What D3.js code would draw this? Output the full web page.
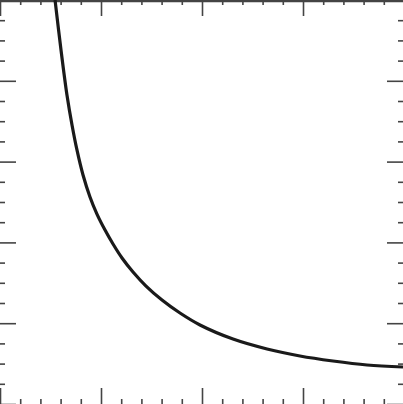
<!DOCTYPE html>
<html>
<head>
<meta charset="utf-8">
<script src="https://cdn.jsdelivr.net/npm/d3@7"></script>
<style>
  html, body { margin: 0; padding: 0; background: #fff; overflow: hidden; }
  svg { display: block; }
</style>
</head>
<body>
<div id="chart"></div>
<script>
// curve (x units, y units)
const curveX = [0.545, 0.604, 0.663, 0.713, 0.762, 0.822, 0.891, 0.960, 1.040, 1.119, 1.208, 1.317, 1.446, 1.604, 1.782, 1.980, 2.307, 2.644, 2.970, 3.297, 3.634, 3.990]
const curveY = [5.000, 4.381, 3.824, 3.453, 3.144, 2.834, 2.562, 2.351, 2.153, 1.980, 1.807, 1.634, 1.460, 1.287, 1.126, 0.978, 0.804, 0.681, 0.594, 0.532, 0.483, 0.458]

const xMajor = [0, 1, 2, 3, 4]
const yMajor = [0, 1, 2, 3, 4, 5]
const xMinorStep = 0.2
const yMinorStep = 0.25

let svgWidth = 403
let svgHeight = 404

const svg = d3.select("#chart").append("svg")
    .attr("width", svgWidth)
    .attr("height", svgHeight)

const x = d3.scaleLinear().domain([0, 4]).range([0, 404])
const y = d3.scaleLinear().domain([0, 5]).range([404, 0])

const xMinor = d3.range(0, 4.0001, xMinorStep).filter(v => Math.abs(v - Math.round(v)) > 1e-6)
const yMinor = d3.range(0, 5.0001, yMinorStep).filter(v => Math.abs(v - Math.round(v)) > 1e-6)

function drawTicks(axisFn, scale, values, size, transform) {
    const g = svg.append("g")
        .attr("transform", transform)
        .call(axisFn(scale).tickValues(values).tickSize(size).tickFormat(""))
    g.select(".domain").remove()
    g.selectAll(".tick line")
        .attr("stroke", "#444")
        .attr("stroke-width", 1.6)
    return g
}

// bottom (ticks point up)
drawTicks(d3.axisTop, x, xMajor, 16, `translate(0,${svgHeight})`)
drawTicks(d3.axisTop, x, xMinor, 5, `translate(0,${svgHeight})`)
// top (ticks point down)
drawTicks(d3.axisBottom, x, xMajor, 16, "translate(0,0)")
drawTicks(d3.axisBottom, x, xMinor, 5, "translate(0,0)")
// left (ticks point right)
drawTicks(d3.axisRight, y, yMajor, 16, "translate(0,0)")
drawTicks(d3.axisRight, y, yMinor, 5, "translate(0,0)")
// right (ticks point left)
drawTicks(d3.axisLeft, y, yMajor, 16, `translate(${svgWidth},0)`)
drawTicks(d3.axisLeft, y, yMinor, 5, `translate(${svgWidth},0)`)

// top frame edge
svg.append("line")
    .attr("x1", 0).attr("x2", svgWidth)
    .attr("y1", 1).attr("y2", 1)
    .attr("stroke", "#444")
    .attr("stroke-width", 2.5)

const points = curveX.map((d, i) => [d, curveY[i]])

const line = d3.line()
    .x(d => x(d[0]))
    .y(d => y(d[1]))
    .curve(d3.curveCatmullRom.alpha(0.5))

svg.append("path")
    .datum(points)
    .attr("d", line)
    .attr("fill", "none")
    .attr("stroke", "#1a1a1a")
    .attr("stroke-width", 3.2)
</script>
</body>
</html>
